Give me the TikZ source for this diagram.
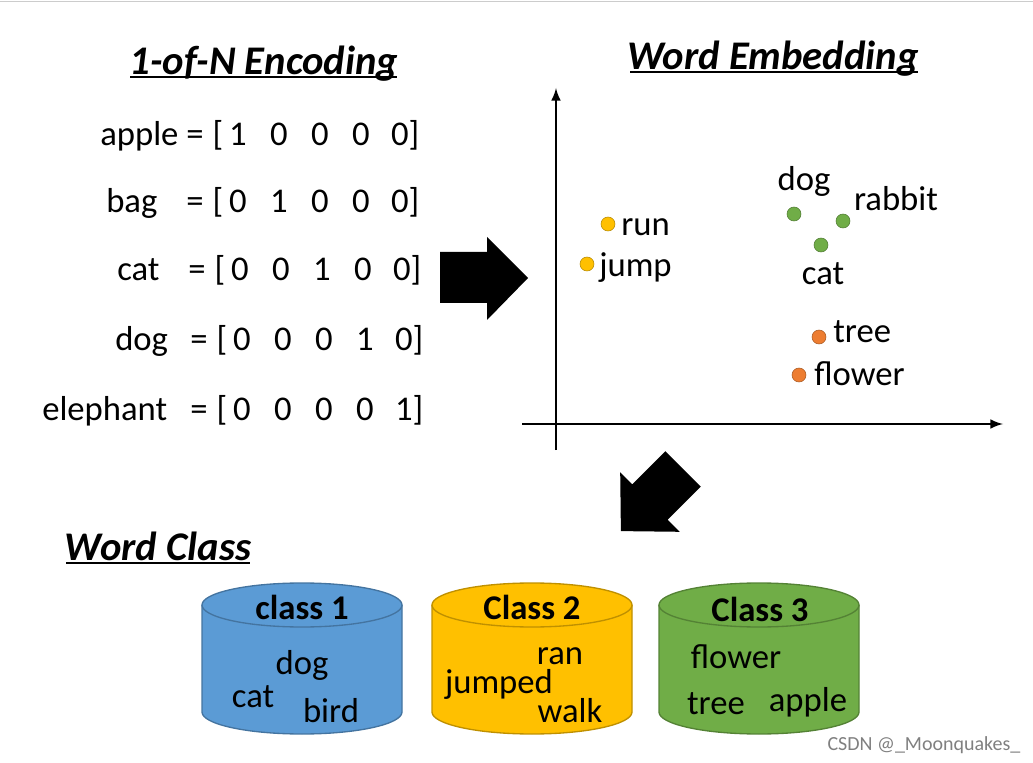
\documentclass[tikz,border=0pt]{standalone}
\usepackage{fontspec}
\setmainfont{Carlito}
\begin{document}
\begin{tikzpicture}[x=0.75pt,y=-0.75pt,
  txt/.style={font=\fontsize{26}{28}\selectfont,inner sep=0pt,text height=0.68em,text depth=0.2em,yshift=-4.5pt},
  ttl/.style={font=\fontsize{30.5}{34}\selectfont\bfseries\itshape,inner sep=0pt,yshift=-2pt},
  cls/.style={font=\fontsize{26}{28}\selectfont\bfseries,inner sep=0pt},
  dotY/.style={circle,fill=yellowc,draw=yellowc!70!black,minimum size=10.5pt,inner sep=0pt},
  dotG/.style={circle,fill=greenc,draw=greenc!70!black,minimum size=10.5pt,inner sep=0pt},
  dotO/.style={circle,fill=orangec,draw=orangec!70!black,minimum size=10.5pt,inner sep=0pt},
  cyl/.style={draw=#1!75!black,line width=1pt,fill=#1}]
\definecolor{yellowc}{HTML}{FFC000}
\definecolor{greenc}{HTML}{70AD47}
\definecolor{orangec}{HTML}{ED7D31}
\definecolor{bluec}{HTML}{5B9BD5}
\useasboundingbox (0,0) rectangle (1033,763);
\draw[gray!40] (0,1) -- (1033,1);
% titles
\node[ttl] (t1) at (264,61) {1-of-N Encoding};
\draw[line width=1pt] (130,77) -- (397,77);
\node[ttl] (t2) at (773,56) {Word Embedding};
\draw[line width=1pt] (630,72) -- (918,72);
\node[ttl] (t3) at (158,544) {Word Class};
\draw[line width=1pt] (66,563) -- (250,563);
% one-hot
\node[txt,anchor=west] (wa) at (100,136) {apple};
\node[txt,anchor=west] (wb) at (106,203) {bag};
\node[txt,anchor=west] (wc) at (117,271) {cat};
\node[txt,anchor=west] (wd) at (115,341) {dog};
\node[txt,anchor=west] (we) at (42,411) {elephant};
\foreach \y/\dx/\a/\b/\c/\d/\e in {136/0/1/0/0/0/0, 203/0/0/1/0/0/0, 271/2/0/0/1/0/0, 341/4/0/0/0/1/0, 411/4/0/0/0/0/1}{
  \node[txt] at (195+\dx,\y) {=};
  \node[txt] at (218+\dx,\y) {[};
  \node[txt] at (238+\dx,\y) {\a};
  \node[txt] at (279+\dx,\y) {\b};
  \node[txt] at (320+\dx,\y) {\c};
  \node[txt] at (361+\dx,\y) {\d};
  \node[txt] at (400+\dx,\y) {\e};
  \node[txt] at (414+\dx,\y) {]};
}
% right arrow
\fill (440,252) -- (487,252) -- (487,237) -- (528,278) -- (487,320) -- (487,303) -- (440,303) -- cycle;
% axes
\coordinate (ya) at (556,450); \coordinate (yb) at (556,88);
\coordinate (xa) at (522,424); \coordinate (xb) at (1003,424);
\draw[line width=2.2pt,-latex] (ya) -- (yb);
\draw[line width=2.2pt,-latex] (xa) -- (xb);
% dots
\node[dotY] (run) at (608,224) {};
\node[txt,anchor=west] at (621,226) {run};
\node[dotY] (jump) at (587,264) {};
\node[txt,anchor=west] at (599,267) {jump};
\node[dotG] (dg) at (794,214) {};
\node[dotG] (rb) at (843,221) {};
\node[dotG] (ct) at (821,245) {};
\node[txt] at (804,181) {dog};
\node[txt] at (896,201) {rabbit};
\node[txt] at (823,275) {cat};
\node[dotO] (tr) at (819,337) {};
\node[txt,anchor=west] at (833,333) {tree};
\node[dotO] (fl) at (799,375) {};
\node[txt,anchor=west] at (814,376) {flower};
% diagonal arrow
\begin{scope}[shift={(-8,8)}]
\fill (708.8,478.6) -- (675.6,511.8) -- (687.6,523.8) -- (628.9,523.1) -- (628.2,464.4) -- (640.2,476.4) -- (673.4,443.2) -- cycle;
\end{scope}
% cylinders
\foreach \cx/\col in {302/bluec,532/yellowc,759/greenc}{
  \draw[cyl=\col] (\cx-100,605) -- (\cx-100,712) arc[start angle=180,end angle=0,x radius=100,y radius=22] -- (\cx+100,605);
  \draw[cyl=\col] (\cx,605) ellipse[x radius=100,y radius=22];
}
\node[cls] at (302,607) {class 1};
\node[cls] at (532,607) {Class 2};
\node[cls] at (760,609) {Class 3};
\node[txt] at (302,665) {dog};
\node[txt] at (253,698) {cat};
\node[txt] at (331,713) {bird};
\node[txt] at (560,655) {ran};
\node[txt] at (499,684) {jumped};
\node[txt] at (570,713) {walk};
\node[txt] at (736,659) {flower};
\node[txt] at (716,705) {tree};
\node[txt] at (808,702) {apple};
\node[font=\fontsize{15}{17}\selectfont,text=gray,inner sep=0pt] at (924,745) {CSDN @\_Moonquakes\_};
\end{tikzpicture}
\end{document}
